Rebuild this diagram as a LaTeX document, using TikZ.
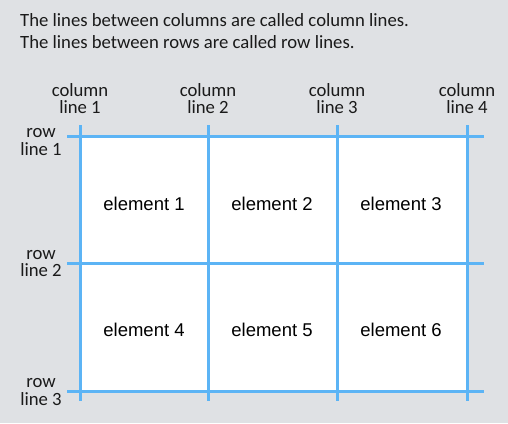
\documentclass[tikz,border=0pt]{standalone}
\usepackage{fontspec}
\setmainfont{Carlito}
\newfontfamily\arialfont{Liberation Sans}
\definecolor{bgc}{HTML}{DFE1E4}
\definecolor{gridblue}{HTML}{5CB4F5}
\definecolor{txt}{HTML}{1A1A1A}
\begin{document}
\begin{tikzpicture}[x=1pt,y=-1pt,
  lbl/.style={inner sep=0pt, align=center, anchor=base, text=txt, font=\fontsize{18.7}{17.3}\selectfont},
  hdr/.style={inner sep=0pt, anchor=base west, text=txt, font=\fontsize{18.7}{22}\selectfont},
  elem/.style={inner sep=0pt, anchor=base, text=black, font=\arialfont\fontsize{18.5}{22}\selectfont},
  gridline/.style={draw=gridblue, line width=3pt}]
\fill[bgc] (0,0) rectangle (508,423);
\useasboundingbox (0,0) rectangle (508,423);
\fill[white] (80,136) rectangle (467,391);
% header
\node[hdr] (h1) at (20,26) {The lines between columns are called column lines.};
\node[hdr] (h2) at (20,48.3) {The lines between rows are called row lines.};
% grid coordinates
\coordinate (c1t) at (80,125);  \coordinate (c1b) at (80,401);
\coordinate (c2t) at (208,125); \coordinate (c2b) at (208,401);
\coordinate (c3t) at (337,125); \coordinate (c3b) at (337,401);
\coordinate (c4t) at (467,125); \coordinate (c4b) at (467,401);
\coordinate (r1l) at (67,136);  \coordinate (r1r) at (484,136);
\coordinate (r2l) at (67,263);  \coordinate (r2r) at (484,263);
\coordinate (r3l) at (67,391);  \coordinate (r3r) at (484,391);
\draw[gridline] (r1l) -- (r1r);
\draw[gridline] (r2l) -- (r2r);
\draw[gridline] (r3l) -- (r3r);
\draw[gridline] (c1t) -- (c1b);
\draw[gridline] (c2t) -- (c2b);
\draw[gridline] (c3t) -- (c3b);
\draw[gridline] (c4t) -- (c4b);
% column labels (base = last line)
\node[lbl] (cl1) at (80,113.3) {column\\line 1};
\node[lbl] (cl2) at (208,113.3) {column\\line 2};
\node[lbl] (cl3) at (337,113.3) {column\\line 3};
\node[lbl] (cl4) at (467,113.3) {column\\line 4};
% row labels
\node[lbl] (rl1) at (41,155) {row\\line 1};
\node[lbl] (rl2) at (41,276.7) {row\\line 2};
\node[lbl] (rl3) at (41,405) {row\\line 3};
% elements
\node[elem] (e1) at (144,210) {element 1};
\node[elem] (e2) at (272,210) {element 2};
\node[elem] (e3) at (401,210) {element 3};
\node[elem] (e4) at (144,336.7) {element 4};
\node[elem] (e5) at (272,336.7) {element 5};
\node[elem] (e6) at (401,336.7) {element 6};
\end{tikzpicture}
\end{document}
